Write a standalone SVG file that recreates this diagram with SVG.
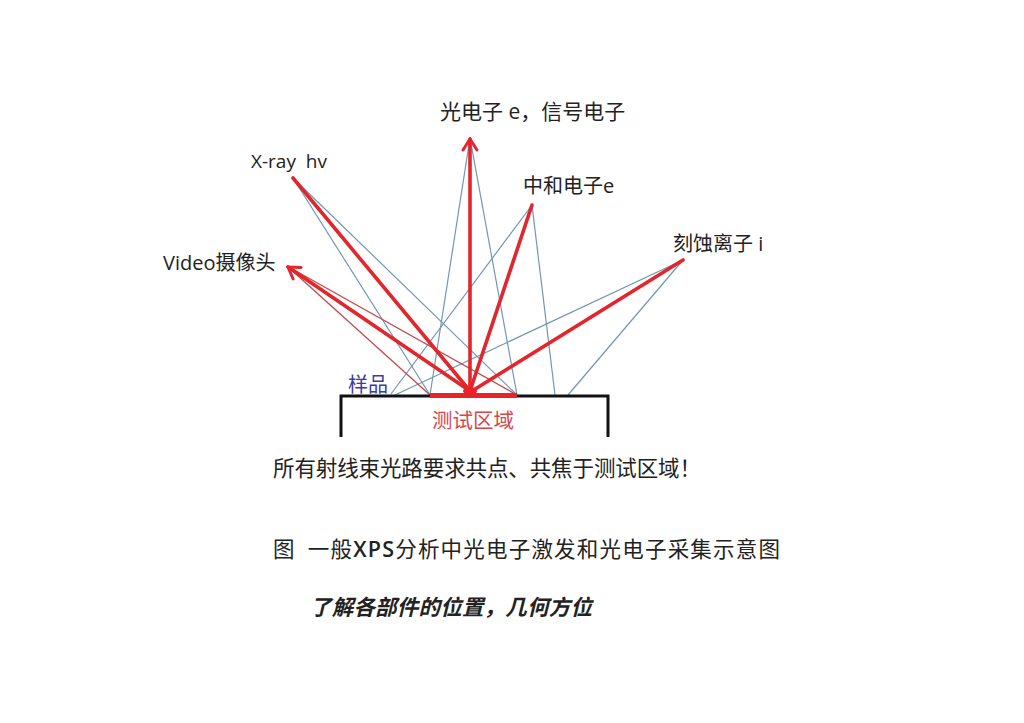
<svg xmlns="http://www.w3.org/2000/svg" width="1024" height="723" viewBox="0 0 1024 723">
  <style>
    .lbl { font-family: "Open Sans", "Noto Sans CJK SC", sans-serif; fill: #222; }
    .cjk { font-family: "Noto Sans CJK SC", sans-serif; fill: #222; }
    .thick { stroke: #e3262b; stroke-width: 3.6; fill: none; stroke-linecap: round; }
    .thinred { stroke: #c24a4e; stroke-width: 1.3; fill: none; }
    .blue { stroke: #7196b5; stroke-width: 1.2; fill: none; }
  </style>
  <defs>
    <marker id="chev" markerUnits="userSpaceOnUse" viewBox="-14 -9 16 18" refX="0" refY="0" markerWidth="16" markerHeight="18" orient="auto">
      <path d="M-11,-7 L0,0 L-11,7" fill="none" stroke="#e3262b" stroke-width="3" stroke-linecap="round" stroke-linejoin="miter"/>
    </marker>
  </defs>
  <rect width="1024" height="723" fill="#ffffff"/>

  <g id="connectors">
    <line class="blue" x1="293" y1="178" x2="430" y2="395"/>
    <line class="blue" x1="293" y1="178" x2="517" y2="395"/>
    <line class="blue" x1="470" y1="138" x2="430" y2="395"/>
    <line class="blue" x1="470" y1="138" x2="517" y2="395"/>
    <line class="blue" x1="532" y1="205" x2="391" y2="394"/>
    <line class="blue" x1="532" y1="205" x2="555" y2="395"/>
    <line class="blue" x1="683" y1="260" x2="395" y2="395"/>
    <line class="blue" x1="683" y1="260" x2="568" y2="395"/>
    <line class="thinred" x1="287" y1="266" x2="430" y2="395"/>
    <line class="thinred" x1="287" y1="266" x2="517" y2="395"/>
    <line class="thick" x1="293" y1="178" x2="470" y2="391"/>
    <line class="thick" x1="532" y1="205" x2="470" y2="391"/>
    <line class="thick" x1="683" y1="260" x2="472" y2="391"/>
    <line class="thick" x1="470" y1="391" x2="470" y2="139" marker-end="url(#chev)"/>
    <line class="thick" x1="470" y1="391" x2="288" y2="267" marker-end="url(#chev)"/>
  </g>

  <g id="sample">
    <path d="M341,437 L341,396 L608,396 L608,437" fill="none" stroke="#111" stroke-width="3"/>
    <line x1="430" y1="395.5" x2="517" y2="395.5" stroke="#e8232a" stroke-width="5"/>
    <ellipse cx="470" cy="391" rx="7" ry="4" fill="#e8232a"/>
    <text x="348" y="392" font-family="Noto Sans CJK SC, sans-serif" font-size="20" fill="#3a3aa8">样品</text>
    <text x="432" y="428" font-family="Noto Sans CJK SC, sans-serif" font-size="20.5" fill="#d6464c">测试区域</text>
  </g>

  <g id="photoelectron">
    <text class="lbl" x="440" y="119" font-size="21">光电子 e，信号电子</text>
  </g>
  <g id="xray">
    <text class="lbl" x="251" y="168" font-size="19" xml:space="preserve">X-ray  hv</text>
  </g>
  <g id="neutral">
    <text class="lbl" x="523" y="193" font-size="20">中和电子e</text>
  </g>
  <g id="ion">
    <text class="lbl" x="673" y="251" font-size="20" xml:space="preserve">刻蚀离子 i</text>
  </g>
  <g id="video">
    <text class="lbl" x="163" y="270" font-size="20">Video摄像头</text>
  </g>

  <g id="notes">
    <text class="cjk" x="273" y="476" font-size="21.5" textLength="428" lengthAdjust="spacing">所有射线束光路要求共点、共焦于测试区域！</text>
    <text class="cjk" x="273" y="557" font-size="21.5" textLength="507" lengthAdjust="spacing" xml:space="preserve">图  一般<tspan font-family="Open Sans, sans-serif" font-weight="600">XPS</tspan>分析中光电子激发和光电子采集示意图</text>
    <text class="cjk" x="310" y="615" font-size="21.5" font-weight="bold" font-style="italic" textLength="282" lengthAdjust="spacing">了解各部件的位置，几何方位</text>
  </g>
</svg>
